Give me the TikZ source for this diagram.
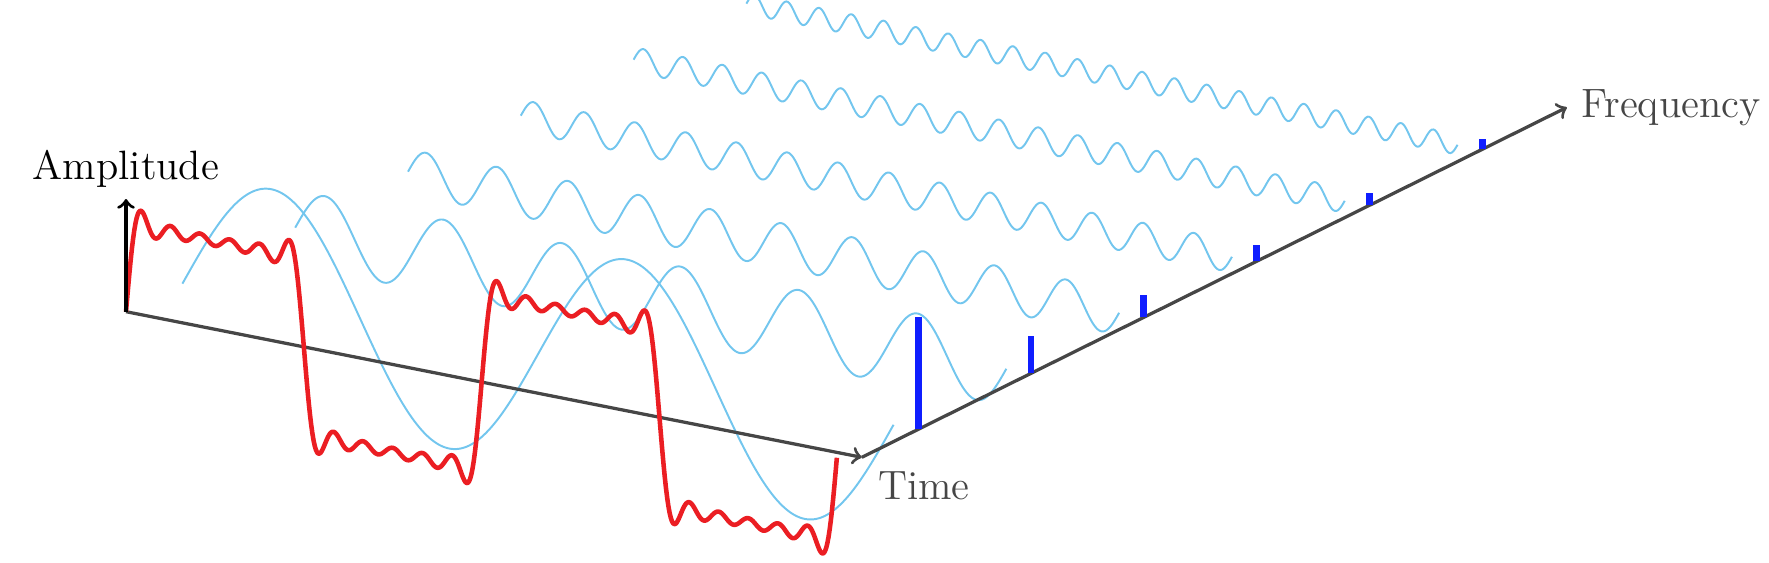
\documentclass[tikz,border=0pt]{standalone}
\usepackage{tikz}
\definecolor{axisgray}{RGB}{70, 70, 70}
\definecolor{sumred}{RGB}{235, 30, 35}
\definecolor{specblue}{RGB}{15, 30, 255}
\definecolor{harmblue}{RGB}{115, 198, 238}
\tikzstyle{axisarc}=[->,>=to,axisgray,line width=1pt]
\tikzstyle{amparc}=[->,>=to,black,line width=1pt]
\tikzstyle{harmonic}=[harmblue,line width=0.6pt]
\tikzstyle{squaresum}=[sumred,line width=1.4pt,line join=round]
\tikzstyle{specline}=[specblue,line width=2.1pt]
\tikzstyle{labelfont}=[font=\fontsize{12.6pt}{15pt}\selectfont]
\tikzstyle{axislabel}=[labelfont,axisgray]

\begin{document}
\begin{tikzpicture}[x={(0.6113cm,-0.1210cm)},y={(0cm,0.9504cm)},z={(0.6091cm,0.3024cm)}]

\clip (-1.361cm,-2.714cm) rectangle (17.744cm,3.366cm);

\coordinate (O) at (0,0,0);
\coordinate (tEnd) at (13,0,0);
\coordinate (fEnd) at (13,0,12.5);
\coordinate (aEnd) at (0,1.28,0);

% harmonics
\foreach \k in {1,3,...,11}
  \draw[harmonic] plot[domain=0:4*pi,samples=500] (\x,{4/(pi*\k)*sin(\k*\x r)},\k);

\draw[axisarc] (O) -- (tEnd);
\draw[axisarc] (tEnd) -- (fEnd);

% spectrum
\foreach \k in {1,3,...,11}
  \draw[specline] (13,0,\k) -- (13,{4/(pi*\k)},\k);

\draw[squaresum] plot[domain=0:4*pi,samples=600] (\x,{4/pi*(sin(\x r)+sin(3*\x r)/3+sin(5*\x r)/5+sin(7*\x r)/7+sin(9*\x r)/9+sin(11*\x r)/11)},0);

\draw[amparc] (O) -- (aEnd);

\node[labelfont,above] (amplabel) at (aEnd) {Amplitude};
\node[axislabel,below right,xshift=1.5pt,yshift=-1pt] (timelabel) at (tEnd) {Time};
\node[axislabel,right,xshift=1pt] (freqlabel) at (fEnd) {Frequency};

\end{tikzpicture}
\end{document}
